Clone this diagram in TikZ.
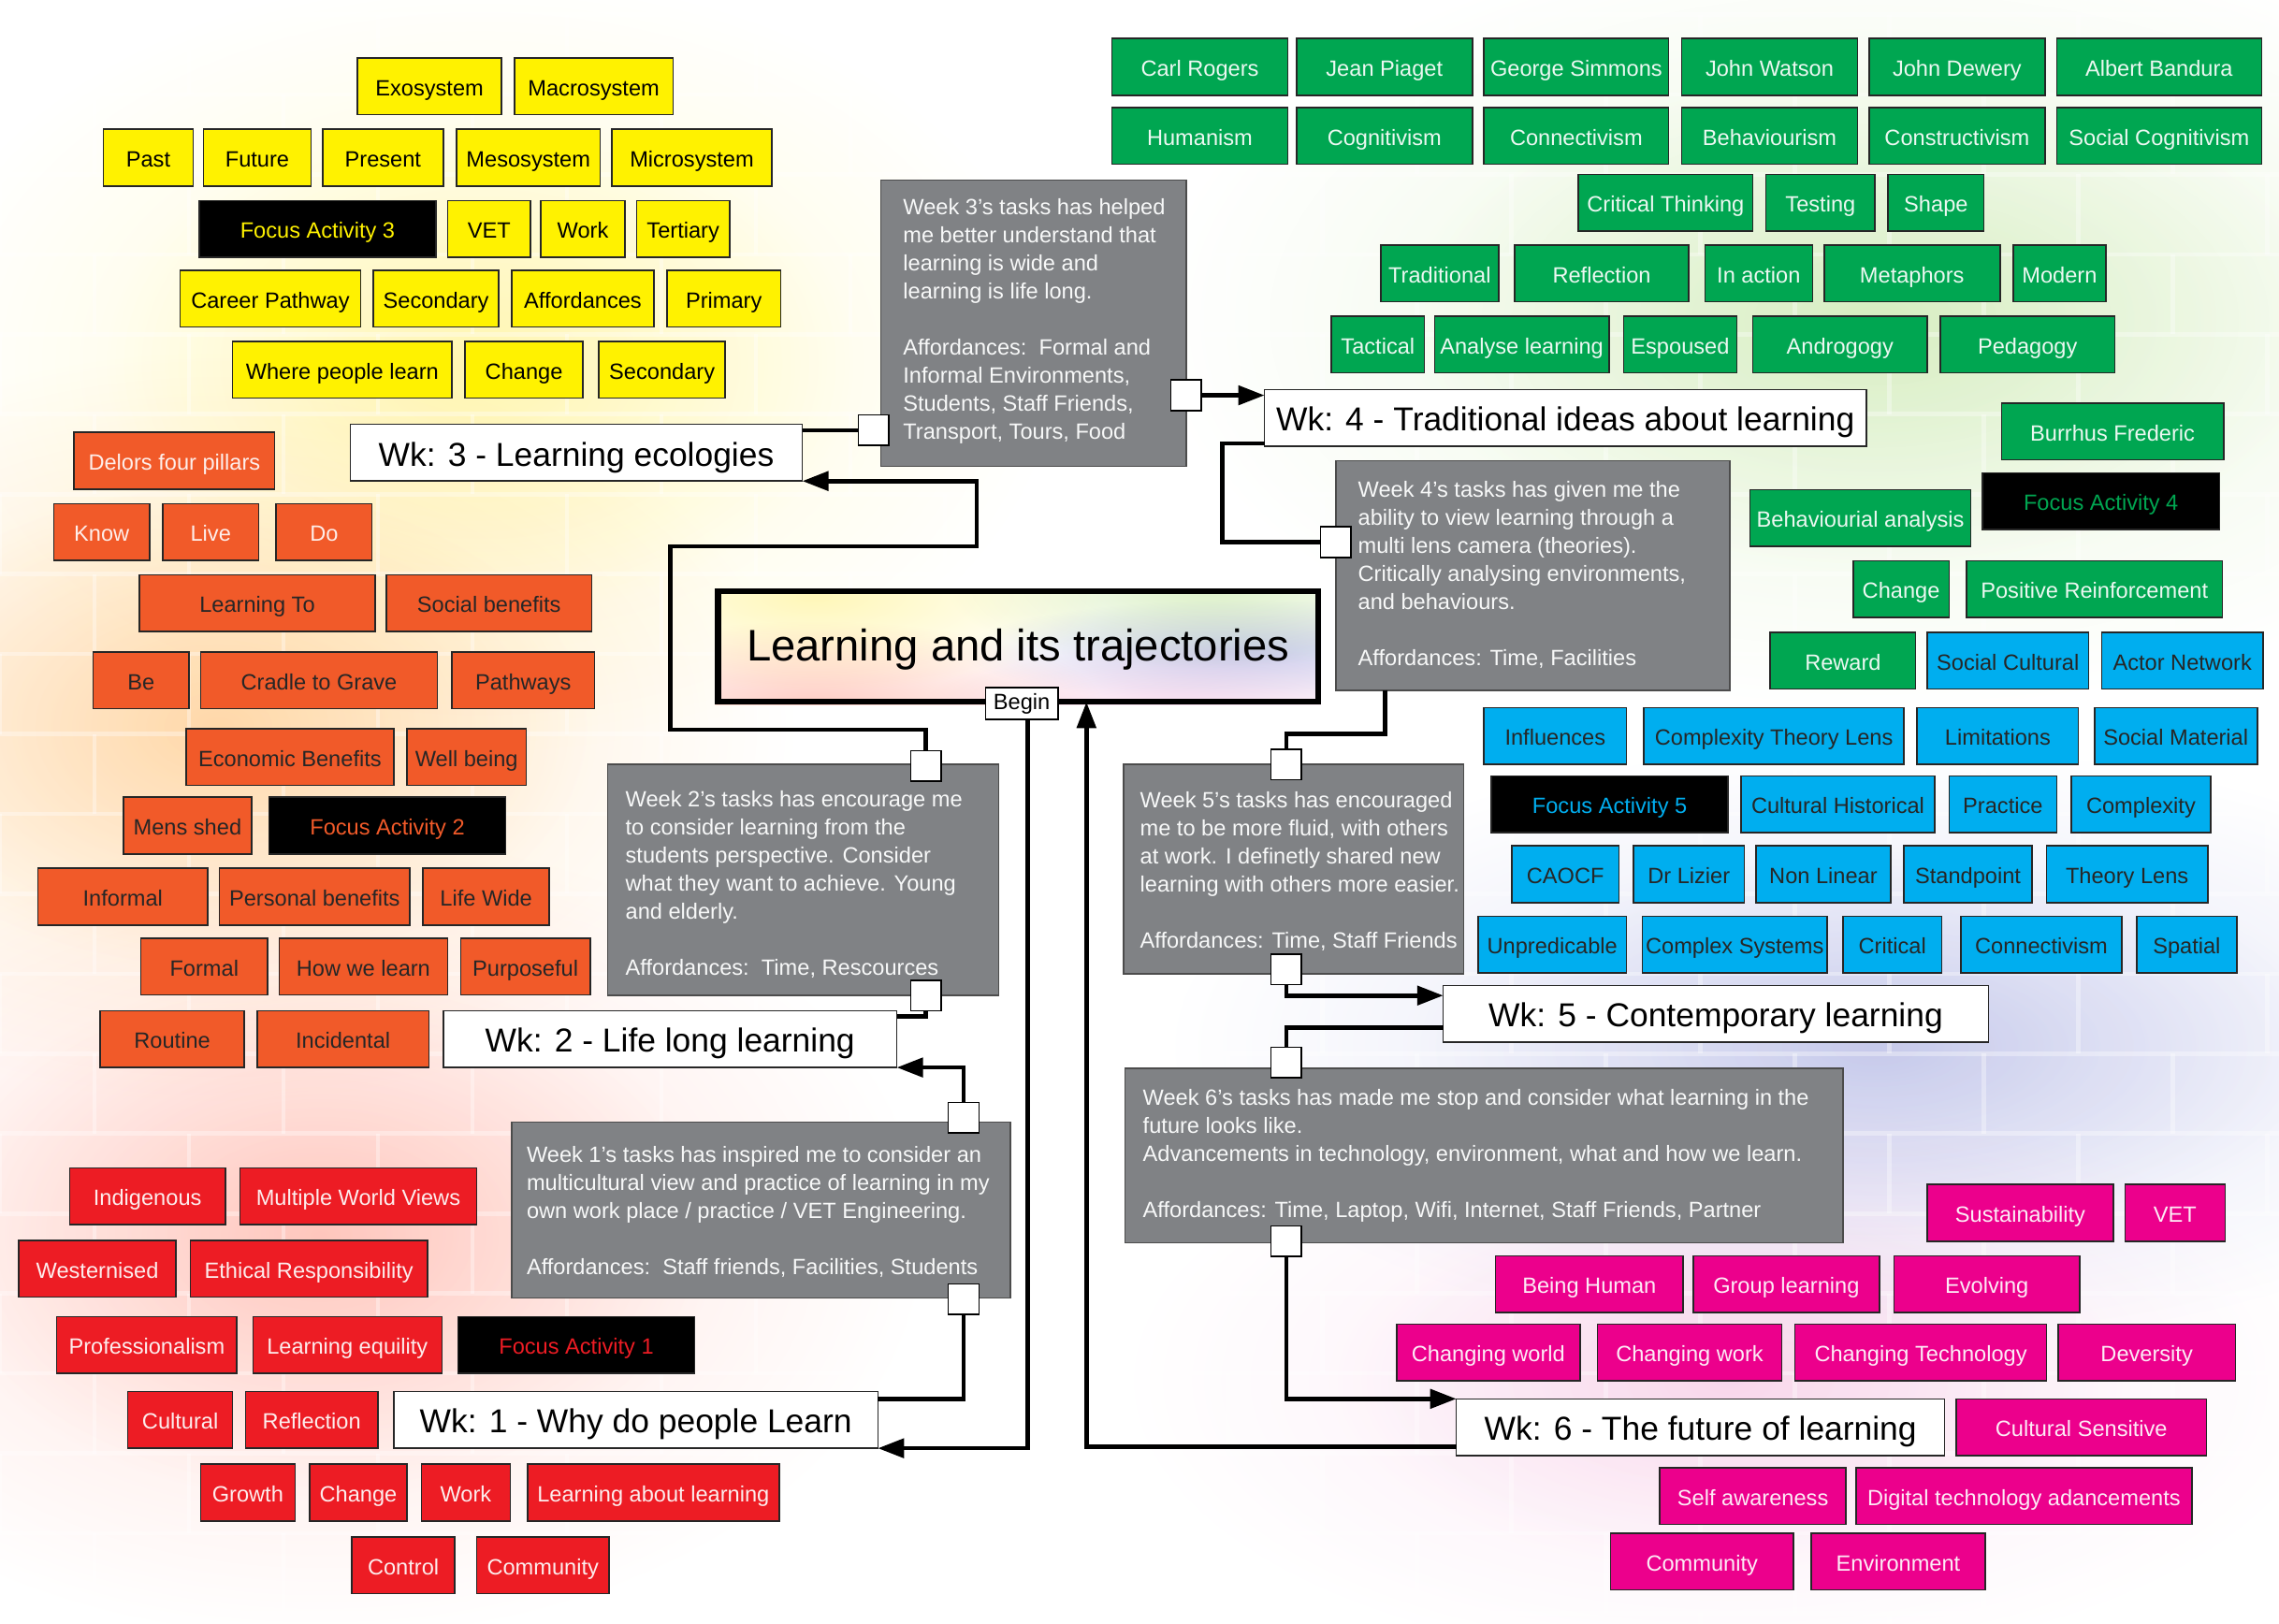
\documentclass[tikz,border=0pt]{standalone}
\usepackage{fontspec}
\setmainfont{Liberation Sans}
\usetikzlibrary{positioning,arrows.meta}

\definecolor{boxyellow}{HTML}{FFF200}
\definecolor{boxorange}{HTML}{F15A29}
\definecolor{boxred}{HTML}{ED1C24}
\definecolor{boxgreen}{HTML}{00A651}
\definecolor{boxblue}{HTML}{00AEEF}
\definecolor{boxpink}{HTML}{EC008C}
\definecolor{boxgrey}{HTML}{808285}
\definecolor{bgyellow}{HTML}{FFF7B8}
\definecolor{bgorange}{HTML}{FFDDB0}
\definecolor{bgred}{HTML}{FFCDC4}
\definecolor{bggreen}{HTML}{DCF0C8}
\definecolor{bgblue}{HTML}{CDD0EE}
\definecolor{bgpink}{HTML}{F9DCEE}

% one soft patch of colour: two stacked radial shades
\newcommand{\softblob}[5]{
  \shade[blob=#1!60!white] (#2,#3) ellipse (#4 and #5);
  \shade[blob=#1!60!white] (#2,#3) ellipse (#4*.65 and #5*.65);
}

\tikzset{
  tagbox/.style={draw=black!85, line width=.5pt, minimum height=19.5pt, inner sep=0pt, outer sep=0pt,
    text height=8pt, text depth=1.6pt, font=\fontsize{7.6}{9.6}\selectfont},
  ybox/.style={tagbox, fill=boxyellow, text=black, minimum width=#1*.5pt},
  obox/.style={tagbox, fill=boxorange, text=black!85, minimum width=#1*.5pt},
  lobox/.style={tagbox, fill=boxorange, text=white!90!boxorange, minimum width=#1*.5pt},
  rbox/.style={tagbox, fill=boxred, text=white!92!boxred, minimum width=#1*.5pt},
  gbox/.style={tagbox, fill=boxgreen, text=white!92!boxgreen, minimum width=#1*.5pt},
  bbox/.style={tagbox, fill=boxblue, text=black!85, minimum width=#1*.5pt},
  pbox/.style={tagbox, fill=boxpink, text=white!92!boxpink, minimum width=#1*.5pt},
  focus/.style={tagbox, fill=black, minimum width=81.5pt, text=#1},
  wkbox/.style={draw=black!85, line width=.5pt, fill=white, minimum height=19.5pt, inner sep=0pt, outer sep=0pt,
    text height=11.5pt, text depth=2.4pt, minimum width=#1*.5pt, font=\fontsize{11.4}{13}\selectfont},
  greybox/.style={draw=black!70, line width=.5pt, fill=boxgrey, inner sep=0pt, outer sep=0pt, anchor=north west},
  greytext/.style={anchor=north west, align=left, inner sep=0pt, text=white!94!boxgrey,
    font=\fontsize{7.6}{9.65}\selectfont},
  port/.style={draw=black, line width=.5pt, fill=white, minimum size=10.5pt, inner sep=0pt, outer sep=0pt},
  flow/.style={draw=black, line width=1.5pt},
  flowarrow/.style={flow, -{Triangle[length=9pt,width=6.5pt]}},
  brick/.style={draw=white, line width=1.5pt, opacity=.35},
  blob/.style={blend mode=multiply, inner color=#1, outer color=white},
}

\begin{document}
\begin{tikzpicture}[x=.5pt,y=-.5pt]
  \useasboundingbox (0,0) rectangle (1568,1116.8);
  \fill[white] (0,0) rectangle (1568,1116.8);

  % background colours
  \softblob{bgyellow}{330}{250}{400}{270}
  \softblob{bgorange}{150}{500}{400}{260}
  \softblob{bgred}{220}{850}{420}{280}
  \softblob{bggreen}{1290}{220}{500}{270}
  \softblob{bgblue}{1290}{720}{490}{210}
  \softblob{bgpink}{1190}{950}{420}{200}
  \foreach \r in {0,...,20}{
    \draw[brick] (0,\r*55+10) -- (1568,\r*55+10);
    \pgfmathsetmacro{\off}{mod(\r,2)*65}
    \foreach \c in {0,...,12}
      \draw[brick] (\c*130+\off,\r*55+10) -- (\c*130+\off,\r*55+65);
  }

  % title
  \begin{scope}
    \clip (492,405) rectangle (909,485);
    \fill[white] (492,405) rectangle (909,485);
    \shade[blob=bgyellow] (560,410) ellipse (200 and 65);
    \shade[blob=bggreen] (830,405) ellipse (180 and 55);
    \shade[blob=bgred] (560,485) ellipse (200 and 58);
    \shade[blob=bgblue] (860,448) ellipse (200 and 36);
    \shade[blob=bgpink] (810,490) ellipse (180 and 48);
  \end{scope}
  \node[draw=black, line width=2pt, minimum width=206.5pt, minimum height=38pt, inner sep=0pt, outer sep=0pt,
    text height=13pt, text depth=3.2pt, font=\fontsize{15.2}{18}\selectfont] (title) at (700.5,445) {Learning and its trajectories};
  \node[draw=black, line width=.5pt, fill=white, minimum width=25pt, minimum height=11pt, inner sep=0pt, outer sep=0pt,
    font=\fontsize{7.6}{9}\selectfont] (begin) at (703,484) {Begin};

  % yellow
  \node[ybox=99] (exosys) at (295.5,59.5) {Exosystem};
  \node[ybox=109, right=4.5pt of exosys] (macrosys) {Macrosystem};
  \node[ybox=62] (past) at (102,108.5) {Past};
  \node[ybox=74, right=3.5pt of past] (future) {Future};
  \node[ybox=83, right=4pt of future] (present) {Present};
  \node[ybox=99, right=4.5pt of present] (mesosys) {Mesosystem};
  \node[ybox=110, right=4pt of mesosys] (microsys) {Microsystem};
  \node[focus=boxyellow] (focus3) at (218.5,157.5) {Focus Activity 3};
  \node[ybox=57, right=4pt of focus3] (yvet) {VET};
  \node[ybox=58, right=3.5pt of yvet] (ywork) {Work};
  \node[ybox=64, right=4pt of ywork] (tertiary) {Tertiary};
  \node[ybox=124] (career) at (186,205.5) {Career Pathway};
  \node[ybox=86, right=4.5pt of career] (second) {Secondary};
  \node[ybox=98, right=4.5pt of second] (afford) {Affordances};
  \node[ybox=78, right=4.5pt of afford] (primary) {Primary};
  \node[ybox=151] (where) at (235.5,254.5) {Where people learn};
  \node[ybox=81, right=4.5pt of where] (ychange) {Change};
  \node[ybox=87, right=5.5pt of ychange] (secondb) {Secondary};

  % orange
  \node[lobox=138] (delors) at (120,317) {Delors four pillars};
  \node[lobox=66] (know) at (70,366) {Know};
  \node[lobox=66, right=4.5pt of know] (live) {Live};
  \node[lobox=66, right=6pt of live] (dothis) {Do};
  \node[obox=162] (learnto) at (177,415) {Learning To};
  \node[obox=141, right=4pt of learnto] (socben) {Social benefits};
  \node[obox=66] (be) at (97,468) {Be};
  \node[obox=163, right=4pt of be] (cradle) {Cradle to Grave};
  \node[obox=98, right=5pt of cradle] (pathways) {Pathways};
  \node[obox=143] (econ) at (199.5,521) {Economic Benefits};
  \node[obox=82, right=4.5pt of econ] (wellb) {Well being};
  \node[obox=88] (mens) at (129,568) {Mens shed};
  \node[focus=boxorange, right=6pt of mens] (focus2) {Focus Activity 2};
  \node[obox=117] (informal) at (84.5,617) {Informal};
  \node[obox=131, right=4pt of informal] (persben) {Personal benefits};
  \node[obox=87, right=4.5pt of persben] (lifewide) {Life Wide};
  \node[obox=87] (formal) at (140.5,665) {Formal};
  \node[obox=116, right=4pt of formal] (howwe) {How we learn};
  \node[obox=89, right=4.5pt of howwe] (purpose) {Purposeful};
  \node[obox=99] (routine) at (118.5,715) {Routine};
  \node[obox=118, right=4.5pt of routine] (incid) {Incidental};

  % red
  \node[rbox=107] (indig) at (101.5,823) {Indigenous};
  \node[rbox=163, right=5pt of indig] (multi) {Multiple World Views};
  \node[rbox=108] (western) at (67,873) {Westernised};
  \node[rbox=163, right=5pt of western] (ethical) {Ethical Responsibility};
  \node[rbox=124] (profess) at (101,925.5) {Professionalism};
  \node[rbox=130, right=5.5pt of profess] (equility) {Learning equility};
  \node[focus=boxred, right=5.5pt of equility] (focus1) {Focus Activity 1};
  \node[rbox=72] (cultural) at (124,977) {Cultural};
  \node[rbox=91, right=4.5pt of cultural] (reflect) {Reflection};
  \node[rbox=65] (growth) at (170.5,1027) {Growth};
  \node[rbox=67, right=5pt of growth] (rchange) {Change};
  \node[rbox=61, right=5pt of rchange] (rwork) {Work};
  \node[rbox=173, right=6pt of rwork] (lal) {Learning about learning};
  \node[rbox=71] (control) at (277.5,1077) {Control};
  \node[rbox=91, right=7.5pt of control] (rcomm) {Community};

  % green
  \node[gbox=121] (rogers) at (825.5,46) {Carl Rogers};
  \node[gbox=121, right=3pt of rogers] (piaget) {Jean Piaget};
  \node[gbox=127, right=4pt of piaget] (simmons) {George Simmons};
  \node[gbox=121, right=4.5pt of simmons] (watson) {John Watson};
  \node[gbox=121, right=4pt of watson] (dewery) {John Dewery};
  \node[gbox=141, right=4pt of dewery] (bandura) {Albert Bandura};
  \node[gbox=121] (human) at (825.5,93.5) {Humanism};
  \node[gbox=121, right=3pt of human] (cogn) {Cognitivism};
  \node[gbox=127, right=4pt of cogn] (connect) {Connectivism};
  \node[gbox=121, right=4.5pt of connect] (behav) {Behaviourism};
  \node[gbox=121, right=4pt of behav] (constr) {Constructivism};
  \node[gbox=141, right=4pt of constr] (soccog) {Social Cognitivism};
  \node[gbox=120] (critthink) at (1146,139.5) {Critical Thinking};
  \node[gbox=75, right=4.5pt of critthink] (testing) {Testing};
  \node[gbox=66, right=4.5pt of testing] (shape) {Shape};
  \node[gbox=81] (tradit) at (990.5,188) {Traditional};
  \node[gbox=120, right=5.5pt of tradit] (greflect) {Reflection};
  \node[gbox=74, right=5.5pt of greflect] (inaction) {In action};
  \node[gbox=121, right=4pt of inaction] (metaph) {Metaphors};
  \node[gbox=64, right=4.5pt of metaph] (modern) {Modern};
  \node[gbox=64] (tactical) at (948,237) {Tactical};
  \node[gbox=120, right=3.5pt of tactical] (analyse) {Analyse learning};
  \node[gbox=78, right=5pt of analyse] (espoused) {Espoused};
  \node[gbox=120, right=5.5pt of espoused] (androg) {Androgogy};
  \node[gbox=120, right=4.5pt of androg] (pedag) {Pedagogy};
  \node[gbox=153] (burrhus) at (1453.5,297) {Burrhus Frederic};
  \node[gbox=152] (behanal) at (1280,356.5) {Behaviourial analysis};
  \node[focus=boxgreen] (focus4) at (1445.5,345) {Focus Activity 4};
  \node[gbox=66] (gchange) at (1308,405.5) {Change};
  \node[gbox=176, right=6pt of gchange] (posreinf) {Positive Reinforcement};
  \node[gbox=100] (reward) at (1268,454.5) {Reward};

  % blue
  \node[bbox=111, right=4pt of reward] (soccult) {Social Cultural};
  \node[bbox=111, right=4.5pt of soccult] (actor) {Actor Network};
  \node[bbox=98] (influ) at (1070,506.5) {Influences};
  \node[bbox=179, right=6pt of influ] (ctlens) {Complexity Theory Lens};
  \node[bbox=111, right=4.5pt of ctlens] (limits) {Limitations};
  \node[bbox=112, right=5.5pt of limits] (socmat) {Social Material};
  \node[focus=boxblue] (focus5) at (1107.5,553.5) {Focus Activity 5};
  \node[bbox=133, right=4.5pt of focus5] (culhist) {Cultural Historical};
  \node[bbox=74, right=5pt of culhist] (practice) {Practice};
  \node[bbox=96, right=5pt of practice] (complex) {Complexity};
  \node[bbox=74] (caocf) at (1077,601.5) {CAOCF};
  \node[bbox=76, right=5pt of caocf] (lizier) {Dr Lizier};
  \node[bbox=93, right=4pt of lizier] (nonlin) {Non Linear};
  \node[bbox=88, right=4.5pt of nonlin] (standp) {Standpoint};
  \node[bbox=111, right=5pt of standp] (theoryl) {Theory Lens};
  \node[bbox=102] (unpred) at (1068,650) {Unpredicable};
  \node[bbox=127, right=5.5pt of unpred] (compsys) {Complex Systems};
  \node[bbox=68, right=5.5pt of compsys] (bcrit) {Critical};
  \node[bbox=111, right=6.5pt of bcrit] (bconn) {Connectivism};
  \node[bbox=69, right=5pt of bconn] (spatial) {Spatial};

  % pink
  \node[pbox=128] (sustain) at (1390,834.5) {Sustainability};
  \node[pbox=69, right=4pt of sustain] (pvet) {VET};
  \node[pbox=129] (beinghum) at (1093.5,883.5) {Being Human};
  \node[pbox=128, right=3.5pt of beinghum] (group) {Group learning};
  \node[pbox=128, right=5pt of group] (evolving) {Evolving};
  \node[pbox=126] (chworld) at (1024,930.5) {Changing world};
  \node[pbox=127, right=6pt of chworld] (chwork) {Changing work};
  \node[pbox=173, right=4.5pt of chwork] (chtech) {Changing Technology};
  \node[pbox=122, right=4pt of chtech] (deversity) {Deversity};
  \node[pbox=128] (selfaw) at (1206,1029.5) {Self awareness};
  \node[pbox=231, right=3.5pt of selfaw] (digital) {Digital technology adancements};
  \node[pbox=126] (pcomm) at (1171,1074.5) {Community};
  \node[pbox=120, right=6pt of pcomm] (environ) {Environment};

  % week titles
  \node[wkbox=333, right=5.5pt of reflect] (wk1) {Wk: 1 - Why do people Learn};
  \node[wkbox=312, right=5pt of incid] (wk2) {Wk: 2 - Life long learning};
  \node[wkbox=311] (wk3) at (396.5,311.5) {Wk: 3 - Learning ecologies};
  \node[wkbox=414] (wk4) at (1077,287.5) {Wk: 4 - Traditional ideas about learning};
  \node[wkbox=375] (wk5) at (1180.5,697.5) {Wk: 5 - Contemporary learning};
  \node[wkbox=336] (wk6) at (1170,982) {Wk: 6 - The future of learning};
  \node[pbox=172, right=4pt of wk6] (culsens) {Cultural Sensitive};

  % week notes
  \node[greybox, minimum width=171.5pt, minimum height=60.5pt] (week1) at (352,772) {};
  \node[greytext] (week1text) at ([xshift=5pt,yshift=-8.3pt]week1.north west) {Week 1’s tasks has inspired me to consider an\\multicultural view and practice of learning in my\\own work place / practice / VET Engineering.\\[9.65pt]Affordances:\ \ Staff friends, Facilities, Students};
  \node[greybox, minimum width=134.5pt, minimum height=79.5pt] (week2) at (418,526) {};
  \node[greytext] (week2text) at ([xshift=6pt,yshift=-8.8pt]week2.north west) {Week 2’s tasks has encourage me\\to consider learning from the\\students perspective. Consider\\what they want to achieve. Young\\and elderly.\\[9.65pt]Affordances:\ \ Time, Rescources};
  \node[greybox, minimum width=105pt, minimum height=98.5pt] (week3) at (606,124) {};
  \node[greytext] (week3text) at ([xshift=7.5pt,yshift=-6.2pt]week3.north west) {Week 3’s tasks has helped\\me better understand that\\learning is wide and\\learning is life long.\\[9.65pt]Affordances:\ \ Formal and\\Informal Environments,\\Students, Staff Friends,\\Transport, Tours, Food};
  \node[greybox, minimum width=135.5pt, minimum height=79pt] (week4) at (919,317) {};
  \node[greytext] (week4text) at ([xshift=7.5pt,yshift=-7pt]week4.north west) {Week 4’s tasks has given me the\\ability to view learning through a\\multi lens camera (theories).\\Critically analysing environments,\\and behaviours.\\[9.65pt]Affordances: Time, Facilities};
  \node[greybox, minimum width=117pt, minimum height=72pt] (week5) at (773,526) {};
  \node[greytext] (week5text) at ([xshift=5.5pt,yshift=-9.3pt]week5.north west) {Week 5’s tasks has encouraged\\me to be more fluid, with others\\at work. I definetly shared new\\learning with others more easier.\\[9.65pt]Affordances: Time, Staff Friends};
  \node[greybox, minimum width=247pt, minimum height=60pt] (week6) at (774,735) {};
  \node[greytext] (week6text) at ([xshift=6pt,yshift=-7pt]week6.north west) {Week 6’s tasks has made me stop and consider what learning in the\\future looks like.\\Advancements in technology, environment, what and how we learn.\\[9.65pt]Affordances: Time, Laptop, Wifi, Internet, Staff Friends, Partner};

  % ports
  \node[port] (p1out) at (663,894) {};
  \node[port] (p1in) at (663,769) {};
  \node[port] (p2out) at (637,685) {};
  \node[port] (p2in) at (637,527) {};
  \node[port] (p3out) at (601,296) {};
  \node[port] (p3in) at (816,272) {};
  \node[port] (p4in) at (919,373) {};
  \node[port] (p5in) at (885,526) {};
  \node[port] (p5out) at (885,667) {};
  \node[port] (p6in) at (885,731) {};
  \node[port] (p6out) at (885,854) {};

  \coordinate (bendA) at (461,502);
  \coordinate (bendB) at (672,376);
  \coordinate (bendC) at (841,340);
  \coordinate (bendD) at (885,505);

  % connectors
  \draw[flowarrow] ([xshift=2pt]begin.south) |- (wk1.south east);
  \draw[flow] ([yshift=-2.5pt]wk1.north east) -| (p1out.south);
  \draw[flowarrow] (p1in.north) |- (wk2.south east);
  \draw[flow] (p2out.south) |- ([yshift=-2pt]wk2.north east);
  \draw[flowarrow] (p2in.north) |- (bendA) |- (bendB) |- (wk3.south east);
  \draw[flow] (wk3.east |- p3out.west) -- (p3out.west);
  \draw[flowarrow] (p3in.east) -- (wk4.west |- p3in.east);
  \draw[flow] ([yshift=1pt]wk4.south west) -| (bendC) |- (p4in.west);
  \draw[flow] ([xshift=17pt]week4.south west) |- (bendD) -- (p5in.north);
  \draw[flowarrow] (p5out.south) |- ([yshift=-3.5pt]wk5.north west);
  \draw[flow] ([yshift=-14.5pt]wk5.north west) -| (p6in.north);
  \draw[flowarrow] (p6out.south) |- (wk6.north west);
  \draw[flowarrow] ([yshift=3pt]wk6.south west) -| ([xshift=23.5pt]title.south);
\end{tikzpicture}
\end{document}
